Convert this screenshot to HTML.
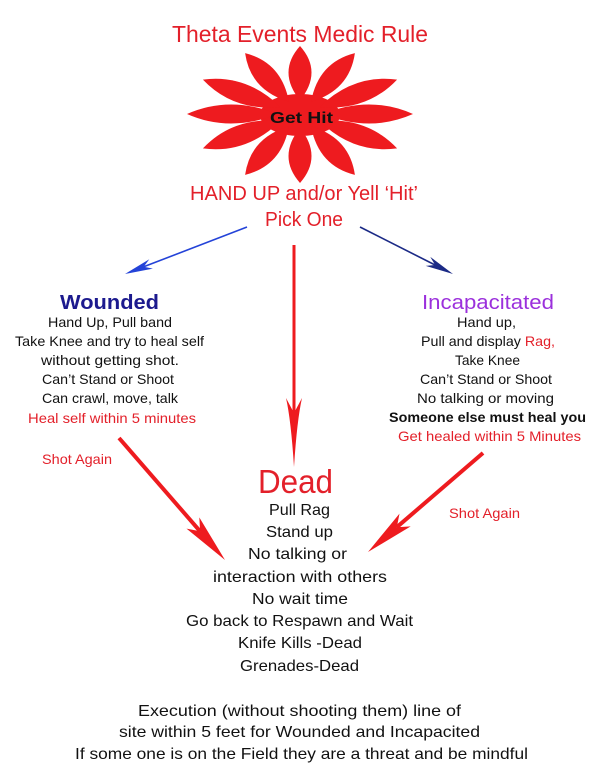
<!DOCTYPE html>
<html><head><meta charset="utf-8"><style>
html,body{margin:0;padding:0;background:#fff;}
svg{display:block;}
text{font-family:"Liberation Sans",sans-serif;}
</style></head><body>
<svg width="600" height="777" viewBox="0 0 600 777" xmlns="http://www.w3.org/2000/svg">
<rect width="600" height="777" fill="#fff"/>
<!-- Title -->
<text x="172" y="42" font-size="23" fill="#e3202a" textLength="256" lengthAdjust="spacingAndGlyphs">Theta Events Medic Rule</text>
<!-- Flower -->
<g fill="#ee1b1f">
<ellipse cx="300" cy="115" rx="40" ry="21"/>
<path d="M322.6,114 Q370.1,133 413,114 Q370.1,95 322.6,114Z"/>
<path d="M319.4,107.1 Q366.9,111.5 397.1,79.6 Q353.5,73.8 319.4,107.1Z"/>
<path d="M311,101.8 Q349.6,90.3 354.9,53.1 Q318.4,62.2 311,101.8Z"/>
<path d="M300,100.4 Q323,71.8 300,46 Q277,71.8 300,100.4Z"/>
<path d="M289,101.8 Q250.4,90.3 245.1,53.1 Q281.6,62.2 289,101.8Z"/>
<path d="M280.6,107.1 Q233.1,111.5 202.9,79.6 Q246.5,73.8 280.6,107.1Z"/>
<path d="M277.4,114 Q229.9,133 187,114 Q229.9,95 277.4,114Z"/>
<path d="M280.6,120.9 Q233.1,116.5 202.9,148.4 Q246.5,154.2 280.6,120.9Z"/>
<path d="M289,126.2 Q250.4,137.7 245.1,174.9 Q281.6,165.8 289,126.2Z"/>
<path d="M300,127.8 Q323,156.8 300,183 Q277,156.8 300,127.8Z"/>
<path d="M311,126.2 Q349.6,137.7 354.9,174.9 Q318.4,165.8 311,126.2Z"/>
<path d="M319.4,120.9 Q366.9,116.5 397.1,148.4 Q353.5,154.2 319.4,120.9Z"/>
</g>
<text x="270" y="123" font-size="16" font-weight="bold" fill="#111" textLength="63" lengthAdjust="spacingAndGlyphs">Get Hit</text>
<text x="190" y="200" font-size="20" fill="#e3202a" textLength="228" lengthAdjust="spacingAndGlyphs">HAND UP and/or Yell ‘Hit’</text>
<text x="265" y="226" font-size="20" fill="#e3202a" textLength="78" lengthAdjust="spacingAndGlyphs">Pick One</text>

<!-- Blue arrows -->
<line x1="247" y1="227" x2="143.7" y2="266.8" stroke="#2443d8" stroke-width="1.6"/>
<polygon points="125,274 152.9,268.6 143.7,266.8 149.3,259.2" fill="#2443d8"/>
<line x1="360" y1="227" x2="435.1" y2="265" stroke="#1b2a86" stroke-width="1.6"/>
<polygon points="453,274 430.3,256.9 435.1,265 425.7,265.9" fill="#1b2a86"/>

<!-- Center red arrow -->
<line x1="294" y1="245" x2="294" y2="414" stroke="#ee1b1f" stroke-width="3"/>
<path d="M294,467 Q291,420 286,398 L294,413 L302,398 Q297,420 294,467Z" fill="#ee1b1f"/>

<!-- Diagonal red arrows -->
<line x1="119" y1="438" x2="200.1" y2="531.3" stroke="#ee1b1f" stroke-width="4"/>
<polygon points="225,560 199.3,517.4 200.1,531.3 186.5,528.6" fill="#ee1b1f"/>
<line x1="483" y1="453" x2="396.8" y2="527.2" stroke="#ee1b1f" stroke-width="4"/>
<polygon points="368,552 410.7,526.4 396.8,527.2 399.5,513.6" fill="#ee1b1f"/>

<!-- Wounded -->
<text x="60" y="309" font-size="20" font-weight="bold" fill="#1c1a8e" textLength="99" lengthAdjust="spacingAndGlyphs">Wounded</text>
<g font-size="14" fill="#111">
<text x="48" y="327" textLength="124" lengthAdjust="spacingAndGlyphs">Hand Up, Pull band</text>
<text x="15" y="346" textLength="189" lengthAdjust="spacingAndGlyphs">Take Knee and try to heal self</text>
<text x="41" y="365" textLength="138" lengthAdjust="spacingAndGlyphs">without getting shot.</text>
<text x="42" y="384" textLength="132" lengthAdjust="spacingAndGlyphs">Can’t Stand or Shoot</text>
<text x="42" y="403" textLength="136" lengthAdjust="spacingAndGlyphs">Can crawl, move, talk</text>
</g>
<text x="28" y="423" font-size="14" fill="#e3202a" textLength="168" lengthAdjust="spacingAndGlyphs">Heal self within 5 minutes</text>
<text x="42" y="464" font-size="14" fill="#e3202a" textLength="70" lengthAdjust="spacingAndGlyphs">Shot Again</text>

<!-- Incapacitated -->
<text x="422" y="309" font-size="20" fill="#9b30dc" textLength="132" lengthAdjust="spacingAndGlyphs">Incapacitated</text>
<g font-size="14" fill="#111">
<text x="457" y="327" textLength="59" lengthAdjust="spacingAndGlyphs">Hand up,</text>
<text x="421" y="346" textLength="134" lengthAdjust="spacingAndGlyphs">Pull and display <tspan fill="#e3202a">Rag,</tspan></text>
<text x="455" y="365" textLength="65" lengthAdjust="spacingAndGlyphs">Take Knee</text>
<text x="420" y="384" textLength="132" lengthAdjust="spacingAndGlyphs">Can’t Stand or Shoot</text>
<text x="417" y="403" textLength="137" lengthAdjust="spacingAndGlyphs">No talking or moving</text>
<text x="389" y="422" font-weight="bold" textLength="197" lengthAdjust="spacingAndGlyphs">Someone else must heal you</text>
</g>
<text x="398" y="441" font-size="14" fill="#e3202a" textLength="183" lengthAdjust="spacingAndGlyphs">Get healed within 5 Minutes</text>
<text x="449" y="518" font-size="14" fill="#e3202a" textLength="71" lengthAdjust="spacingAndGlyphs">Shot Again</text>

<!-- Dead -->
<text x="258" y="493" font-size="33" fill="#e3202a" textLength="75" lengthAdjust="spacingAndGlyphs">Dead</text>
<g font-size="16" fill="#111">
<text x="269" y="515" textLength="61" lengthAdjust="spacingAndGlyphs">Pull Rag</text>
<text x="266" y="537" textLength="67" lengthAdjust="spacingAndGlyphs">Stand up</text>
<text x="248" y="559" textLength="99" lengthAdjust="spacingAndGlyphs">No talking or</text>
<text x="213" y="582" textLength="174" lengthAdjust="spacingAndGlyphs">interaction with others</text>
<text x="252" y="604" textLength="96" lengthAdjust="spacingAndGlyphs">No wait time</text>
<text x="186" y="626" textLength="227" lengthAdjust="spacingAndGlyphs">Go back to Respawn and Wait</text>
<text x="238" y="648" textLength="124" lengthAdjust="spacingAndGlyphs">Knife Kills -Dead</text>
<text x="240" y="671" textLength="119" lengthAdjust="spacingAndGlyphs">Grenades-Dead</text>
</g>

<!-- Bottom -->
<g font-size="16" fill="#111">
<text x="138" y="716" textLength="323" lengthAdjust="spacingAndGlyphs">Execution (without shooting them) line of</text>
<text x="119" y="737" textLength="361" lengthAdjust="spacingAndGlyphs">site within 5 feet for Wounded and Incapacited</text>
<text x="75" y="759" textLength="453" lengthAdjust="spacingAndGlyphs">If some one is on the Field they are a threat and be mindful</text>
</g>
</svg>
</body></html>
